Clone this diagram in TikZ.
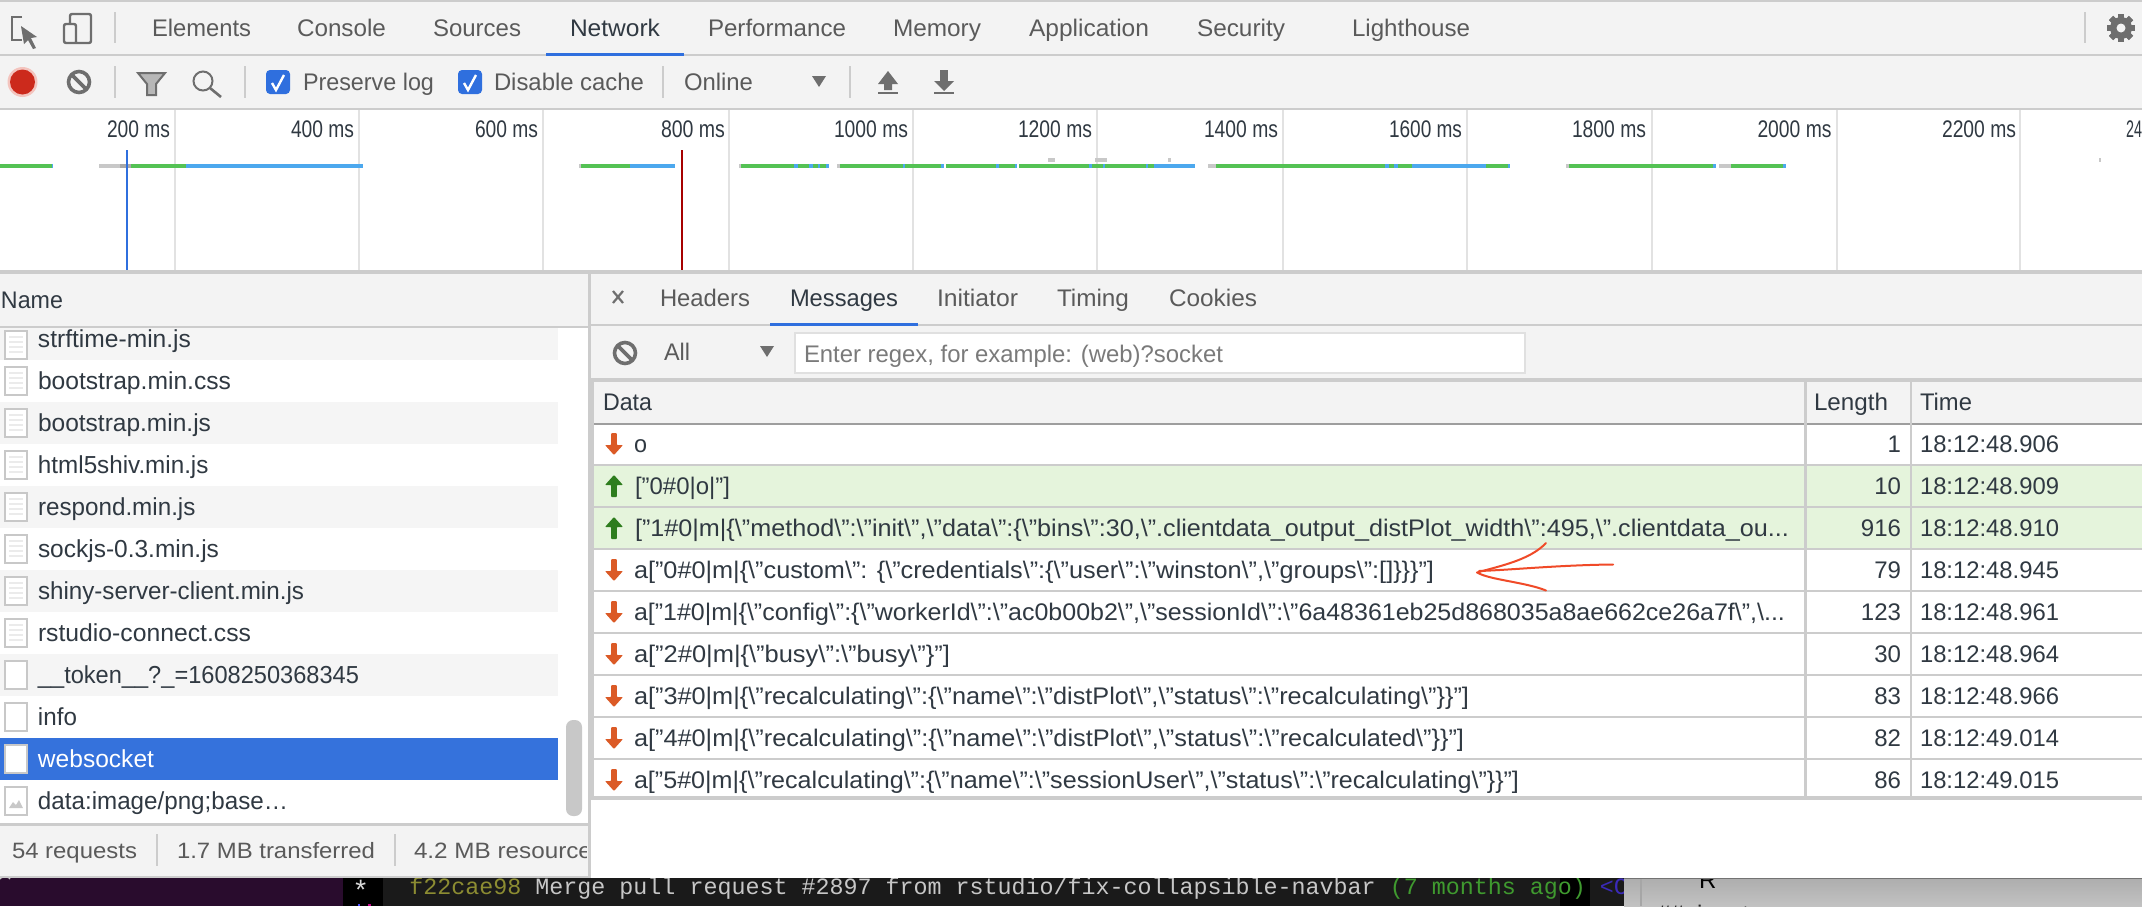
\documentclass[tikz,border=0pt]{standalone}
\usepackage{fontspec}
\usepackage{graphicx}
\setmainfont{Liberation Sans}
\newfontfamily\termfont{Liberation Mono}
\definecolor{barbg}{HTML}{F3F3F3}
\definecolor{rule}{HTML}{CCCCCC}
\definecolor{ico}{HTML}{6E6E6E}
\definecolor{tabtx}{HTML}{5A5A5A}
\definecolor{dark}{HTML}{303942}
\definecolor{selblue}{HTML}{3572DC}
\definecolor{tabblue}{HTML}{2F6FDE}
\definecolor{alt}{HTML}{F5F5F5}
\definecolor{sent}{HTML}{E5F4DC}
\definecolor{grn}{HTML}{54C254}
\definecolor{blu}{HTML}{4CA8EE}
\definecolor{gry}{HTML}{C8C8C8}
\definecolor{dgry}{HTML}{A8A8A8}
\definecolor{dnorange}{HTML}{DB5A26}
\definecolor{upgreen}{HTML}{2E7D1E}
\definecolor{inkred}{HTML}{F04A28}
\definecolor{gridl}{HTML}{E2E2E2}
\definecolor{purplebg}{HTML}{290C2D}
\definecolor{recred}{HTML}{CC2A1C}
\definecolor{recglow}{HTML}{F3C4BE}
\definecolor{termbg}{HTML}{1A1A1A}
\newsavebox\fitbox
\newcommand\fitw[2]{\sbox\fitbox{#2}\pgfmathsetmacro\fitr{#1*0.5/\the\wd\fitbox}\scalebox{\fitr}[1]{\usebox\fitbox}}
\newcommand\qq{\textbackslash"}
\newcommand\bsl{\textbackslash}
\newcommand\dnarrow[2]{\fill[dnorange,rounded corners=0.4pt] (#1-2.8,#2-11)--(#1+2.8,#2-11)--(#1+2.8,#2+1)--(#1+9,#2+1)--(#1,#2+11)--(#1-9,#2+1)--(#1-2.8,#2+1)--cycle;}
\newcommand\uparrowicon[2]{\fill[upgreen,rounded corners=0.4pt] (#1-2.8,#2+11)--(#1+2.8,#2+11)--(#1+2.8,#2-1)--(#1+9,#2-1)--(#1,#2-11)--(#1-9,#2-1)--(#1-2.8,#2-1)--cycle;}
\newcommand\blockicon[2]{\draw[ico,line width=1.8pt] (#1,#2) circle (10.5); \draw[ico,line width=1.8pt] (#1-7,#2-7)--(#1+7,#2+7);}
\tikzset{
 lab/.style={anchor=base west,inner sep=0pt,outer sep=0pt,font=\fontsize{12}{14}\selectfont,text=dark},
 tabl/.style={lab,text=tabtx},
 rlab/.style={lab,anchor=base east},
 list/.style={lab,font=\fontsize{12.3}{14}\selectfont},
 stat/.style={lab,font=\fontsize{11.1}{14}\selectfont,text=tabtx},
 seppx/.style={line width=1pt,draw=rule},
 term/.style={anchor=base west,inner sep=0pt,font=\termfont\fontsize{11.67}{14}\selectfont,text=black!22}
}
\begin{document}
\begin{tikzpicture}[x=0.5pt,y=-0.5pt]
\useasboundingbox (0,0) rectangle (2142,906);
\clip (0,0) rectangle (2142,906);
\fill[white] (0,0) rectangle (2142,906);
% top bars
\fill[barbg] (0,2) rectangle (2142,108);
\fill[rule] (0,0) rectangle (2142,2);
\fill[rule] (0,54) rectangle (2142,56);
\fill[rule] (0,108) rectangle (2142,110);
\fill[tabblue] (546,53) rectangle (684,56);
% tab icons
\draw[ico,line width=1pt] (22,17)--(12,17)--(12,40)--(22,40);
\fill[ico] (21,26)--(37,37)--(31,38)--(36,48)--(33,49)--(28,40)--(24,44)--cycle;
\draw[ico,line width=1.2pt,rounded corners=1pt] (70,24)--(70,14)--(91,14)--(91,43)--(64,43)--(64,24)--(76,24)--(76,43);
\draw[seppx] (115,12)--(115,43);
\node[tabl] (tElements) at (152,36.5) {\fitw{99}{Elements}};
\node[tabl] (tConsole) at (297,36.5) {\fitw{89}{Console}};
\node[tabl] (tSources) at (433,36.5) {\fitw{88}{Sources}};
\node[lab] (tNetwork) at (570,36.5) {\fitw{90}{Network}};
\node[tabl] (tPerf) at (708,36.5) {\fitw{138}{Performance}};
\node[tabl] (tMemory) at (893,36.5) {\fitw{88}{Memory}};
\node[tabl] (tApp) at (1029,36.5) {\fitw{120}{Application}};
\node[tabl] (tSecurity) at (1197,36.5) {\fitw{88}{Security}};
\node[tabl] (tLight) at (1352,36.5) {\fitw{118}{Lighthouse}};
\draw[seppx] (2085,12)--(2085,43);
% gear
\foreach \a in {0,45,...,315}{\fill[ico,rotate around={\a:(2121,28)}] (2118,14) rectangle (2124,42);}
\fill[ico] (2121,28) circle (11);
\fill[barbg] (2121,28) circle (4.5);
% toolbar
\fill[recglow] (22.5,82) circle (15);
\fill[recred] (22.5,82) circle (12.5);
\blockicon{79}{82}
\draw[seppx] (115,66)--(115,98);
\fill[ico!50!white,draw=ico,line width=1pt] (138,73)--(165,73)--(156,84)--(156,95)--(147,95)--(147,84)--cycle;
\draw[ico,line width=1pt] (203,81) circle (9.5); \draw[ico,line width=1.3pt] (210,88)--(221,97);
\draw[seppx] (245,66)--(245,98);
\fill[tabblue,rounded corners=2pt] (266,70) rectangle (290,94);
\draw[white,line width=1.2pt] (272,83)--(276,90)--(284,75);
\node[tabl] (preserve) at (303,90.5) {\fitw{131}{Preserve log}};
\fill[tabblue,rounded corners=2pt] (458,70) rectangle (482,94);
\draw[white,line width=1.2pt] (464,83)--(468,90)--(476,75);
\node[tabl] (disable) at (494,90.5) {\fitw{150}{Disable cache}};
\draw[seppx] (663,66)--(663,98);
\node[tabl] (online) at (684,90.5) {\fitw{69}{Online}};
\fill[ico] (812,76)--(826,76)--(819,87)--cycle;
\draw[seppx] (850,66)--(850,98);
\fill[ico] (888,71)--(898,84)--(892,84)--(892,90)--(884,90)--(884,84)--(878,84)--cycle;
\fill[ico] (878,92) rectangle (898,94);
\fill[ico] (940,70) rectangle (948,81); \fill[ico] (934,81)--(954,81)--(944,91)--cycle;
\fill[ico] (934,92) rectangle (954,94);
% overview
\foreach \x in {175,359,543,729,913,1097,1283,1466.5,1651.5,1837,2020}{\draw[gridl,line width=1pt] (\x,110)--(\x,270);}
\node[lab] (m200) at (107,137) {\fitw{63}{200 ms}};
\node[lab] (m400) at (291,137) {\fitw{63}{400 ms}};
\node[lab] (m600) at (475,137) {\fitw{63}{600 ms}};
\node[lab] (m800) at (661,137) {\fitw{64}{800 ms}};
\node[lab] (m1000) at (834,137) {\fitw{74}{1000 ms}};
\node[lab] (m1200) at (1018,137) {\fitw{74}{1200 ms}};
\node[lab] (m1400) at (1204,137) {\fitw{74}{1400 ms}};
\node[lab] (m1600) at (1389,137) {\fitw{73}{1600 ms}};
\node[lab] (m1800) at (1572,137) {\fitw{74}{1800 ms}};
\node[lab] (m2000) at (1757.5,137) {\fitw{74}{2000 ms}};
\node[lab] (m2200) at (1942,137) {\fitw{74}{2200 ms}};
\node[lab] (m2400) at (2126,137) {\fitw{16}{24}};
% bars
\foreach \c/\a/\b in {grn/0/52,blu/52/53,gry/99/120,dgry/120/131,grn/131/186,blu/186/363,gry/579/581,grn/581/630,blu/630/675,
 gry/739/741,grn/741/794,blu/794/798,grn/798/809,blu/809/813,grn/813/818,blu/818/820,grn/820/826,blu/826/829,
 gry/837/840,grn/840/903,blu/903/905,grn/905/941,blu/941/944,grn/946/996,blu/996/998.5,grn/998.5/1015,blu/1015/1017,
 grn/1019/1089,blu/1089/1091.5,grn/1091.5/1103,blu/1103/1105,grn/1105/1146,blu/1146/1148,grn/1148/1154,blu/1154/1195,
 gry/1208/1216,grn/1216/1385,blu/1385/1389,grn/1389/1394,blu/1394/1398,grn/1398/1412,blu/1412/1486,grn/1486/1508,blu/1508/1510,
 gry/1566/1569,grn/1569/1713,blu/1713/1716,gry/1719/1731,grn/1731/1783,blu/1783/1786}{\fill[\c] (\a,164) rectangle (\b,168);}
\foreach \a/\b in {1048/1055,1095/1107,1168/1171,2099/2101}{\fill[gry] (\a,158) rectangle (\b,162);}
\draw[tabblue,line width=1pt] (126.5,150)--(126.5,270);
\draw[red!65!black,line width=1pt] (682,150)--(682,270);
% left pane
\fill[rule] (0,270) rectangle (2142,274);
\fill[barbg] (0,274) rectangle (588,326);
\fill[rule] (0,326) rectangle (588,328);
\fill[white] (0,328) rectangle (588,826);
\foreach \y in {328,402,486,570,654}{\pgfmathsetmacro\yb{\y==328?360:\y+42}\fill[alt] (0,\y) rectangle (558,\yb);}
\fill[selblue] (0,738) rectangle (558,780);
\fill[gry,rounded corners=3.5pt] (566,720) rectangle (582,816);
\foreach \y in {345,381,423,465,507,549,591,633}{
 \fill[white,draw=gry,line width=1pt] (5,\y-14) rectangle (27,\y+14);
 \foreach \d in {-8,-3,2,7}{\draw[black!8,line width=.8pt] (9,\y+\d)--(23,\y+\d);}
}
\foreach \y in {675,717,759,801}{\fill[white,draw=gry,line width=1pt] (5,\y-14) rectangle (27,\y+14);}
\fill[gry] (9,808)--(13,802)--(16,805)--(19,800)--(23,808)--cycle;
\node[lab] (name) at (1,308) {\fitw{62}{Name}};
\node[list] (f1) at (38,347) {\fitw{153}{strftime-min.js}};
\node[list] (f2) at (38,389) {\fitw{193}{bootstrap.min.css}};
\node[list] (f3) at (38,431) {\fitw{173}{bootstrap.min.js}};
\node[list] (f4) at (38,473) {\fitw{170.5}{html5shiv.min.js}};
\node[list] (f5) at (38,515) {\fitw{157.5}{respond.min.js}};
\node[list] (f6) at (38,557) {\fitw{181}{sockjs-0.3.min.js}};
\node[list] (f7) at (38,599) {\fitw{266}{shiny-server-client.min.js}};
\node[list] (f8) at (38,641) {\fitw{213}{rstudio-connect.css}};
\node[list] (f9) at (38,683) {\fitw{321}{\_\_token\_\_?\_=1608250368345}};
\node[list] (f10) at (38,725) {\fitw{39}{info}};
\node[list,text=white] (f11) at (38,767) {\fitw{116}{websocket}};
\node[list] (f12) at (38,809) {\fitw{250}{data:image/png;base…}};
% status bar
\fill[rule] (0,823) rectangle (588,826);
\fill[barbg] (0,826) rectangle (588,876);
\fill[rule] (0,876) rectangle (591,878);
\node[stat] (s1) at (12,858) {\fitw{125}{54 requests}};
\draw[seppx] (157,834)--(157,866);
\node[stat] (s2) at (177,858) {\fitw{198}{1.7 MB transferred}};
\draw[seppx] (395,834)--(395,866);
\begin{scope}
\clip (400,826) rectangle (586,876);
\node[stat] (s3) at (414,858) {\fitw{178}{4.2 MB resource}};
\end{scope}
\fill[rule] (588,270) rectangle (591,878);
% right pane top
\fill[barbg] (591,274) rectangle (2142,324);
\fill[rule] (591,324) rectangle (2142,326);
\fill[tabblue] (770,323) rectangle (918,326);
\draw[ico,line width=1.1pt] (613,291)--(623,303) (623,291)--(613,303);
\node[tabl] (hHeaders) at (660,306.7) {\fitw{90}{Headers}};
\node[lab] (hMessages) at (790,306.7) {\fitw{108}{Messages}};
\node[tabl] (hInit) at (937,306.7) {\fitw{81}{Initiator}};
\node[tabl] (hTiming) at (1057,306.7) {\fitw{72}{Timing}};
\node[tabl] (hCookies) at (1169,306.7) {\fitw{88}{Cookies}};
\fill[barbg] (591,326) rectangle (2142,378);
\fill[rule] (591,378) rectangle (2142,382);
\blockicon{625}{353}
\node[tabl] (fAll) at (664,360) {\fitw{26}{All}};
\fill[ico] (760,346)--(774,346)--(767,357)--cycle;
\fill[white,draw=black!12,line width=1pt] (795,333) rectangle (1525,373);
\node[lab,text=black!52] (regex) at (804,362.7) {\fitw{419}{Enter regex, for example: (web)?socket}};
% table
\fill[rule] (591,382) rectangle (594,800);
\fill[barbg] (594,382) rectangle (2142,423);
\fill[black!38] (594,423) rectangle (2142,425);
\fill[white] (594,425) rectangle (2142,796);
\fill[sent] (594,466) rectangle (2142,548);
\foreach \y in {464,506,548,590,632,674,716,758}{\fill[rule] (594,\y) rectangle (2142,\y+2);}
\fill[rule] (594,796) rectangle (2142,800);
\fill[rule] (1804,382) rectangle (1806.5,800);
\fill[rule] (1910,382) rectangle (1912,800);
\node[lab] (dData) at (603,410) {\fitw{49}{Data}};
\node[lab] (dLen) at (1814,410) {\fitw{74}{Length}};
\node[lab] (dTime) at (1920,410) {\fitw{52}{Time}};
\dnarrow{614}{444}
\uparrowicon{614}{486}
\uparrowicon{614}{528}
\foreach \y in {570,612,654,696,738,780}{\dnarrow{614}{\y}}
\node[lab] (r1) at (634,452) {\fitw{13}{o}};
\node[lab] (r2) at (635,494) {\fitw{95}{["0\#0|o|"]}};
\node[lab] (r3) at (635,536) {\fitw{1154}{["1\#0|m|\{\qq method\qq:\qq init\qq,\qq data\qq:\{\qq bins\qq:30,\qq.clientdata\_output\_distPlot\_width\qq:495,\qq.clientdata\_ou...}};
\node[lab] (r4) at (634,578) {\fitw{800}{a["0\#0|m|\{\qq custom\qq: \{\qq credentials\qq:\{\qq user\qq:\qq winston\qq,\qq groups\qq:[]\}\}\}"]}};
\node[lab] (r5) at (634,620) {\fitw{1151}{a["1\#0|m|\{\qq config\qq:\{\qq workerId\qq:\qq ac0b00b2\qq,\qq sessionId\qq:\qq 6a48361eb25d868035a8ae662ce26a7f\qq,\bsl...}};
\node[lab] (r6) at (634,662) {\fitw{316}{a["2\#0|m|\{\qq busy\qq:\qq busy\qq\}"]}};
\node[lab] (r7) at (634,704) {\fitw{835}{a["3\#0|m|\{\qq recalculating\qq:\{\qq name\qq:\qq distPlot\qq,\qq status\qq:\qq recalculating\qq\}\}"]}};
\node[lab] (r8) at (634,746) {\fitw{830}{a["4\#0|m|\{\qq recalculating\qq:\{\qq name\qq:\qq distPlot\qq,\qq status\qq:\qq recalculated\qq\}\}"]}};
\node[lab] (r9) at (634,788) {\fitw{885}{a["5\#0|m|\{\qq recalculating\qq:\{\qq name\qq:\qq sessionUser\qq,\qq status\qq:\qq recalculating\qq\}\}"]}};
\foreach \n/\v/\t/\y in {1/1/18:12:48.906/452,2/10/18:12:48.909/494,3/916/18:12:48.910/536,4/79/18:12:48.945/578,5/123/18:12:48.961/620,6/30/18:12:48.964/662,7/83/18:12:48.966/704,8/82/18:12:49.014/746,9/86/18:12:49.015/788}{
 \node[rlab] (len\n) at (1901,\y) {\v};
 \node[lab] (time\n) at (1920,\y) {\fitw{139}{\t}};
}
% hand-drawn arrow
\draw[inkred,line width=1pt,line cap=round,line join=round] (1546,543) .. controls (1530,560) and (1500,566) .. (1477,572.5) .. controls (1490,580) and (1525,582) .. (1546,590.5);
\draw[inkred,line width=1pt,line cap=round] (1479,571) .. controls (1510,570) and (1560,565) .. (1613,564.5);
% bottom strip
\fill[purplebg] (0,878) rectangle (343,906);
\draw[rule,line width=.6pt] (0,879) arc (180:360:5 and 2);
\fill[black] (343,878) rectangle (383,906);
\fill[termbg] (383,878) rectangle (1590,906);
\fill[black] (1560,878) rectangle (1590,906);
\fill[termbg] (1590,878) rectangle (1624,906);
\begin{scope}
\clip (343,878) rectangle (1624,906);
\node[term,font=\termfont\fontsize{14}{14}\selectfont,text=black!15] (star) at (352,900) {*};
\node[term] (gitlog) at (409,894) {\textcolor[HTML]{8C8C32}{f22cae98} Merge pull request \#2897 from rstudio/fix-collapsible-navbar \textcolor[HTML]{3F9A2F}{(7 months ago)} \textcolor[HTML]{3A2AB8}{<C}};
\fill[blue!70!white] (358,904) rectangle (360,906);
\fill[magenta!80!blue] (368,904) rectangle (371,906);
\end{scope}
\shade[top color=black!32,bottom color=black!24] (1624,878) rectangle (2142,906);
\fill[black!35] (1640,878) rectangle (1642,906);
\begin{scope}
\clip (1624,878) rectangle (2142,906);
\node[lab,text=black] (rletter) at (1699,888) {R};
\node[lab,text=black!85] (dots) at (1658,877) {.. ..};
\node[lab,text=black!85] (hash) at (1657,922) {\#\#\ \ input};
\end{scope}
\fill[black!55] (1624,877.5) rectangle (2142,878.5);
\fill[white] (591,800) rectangle (2142,877.5);
\end{tikzpicture}
\end{document}
